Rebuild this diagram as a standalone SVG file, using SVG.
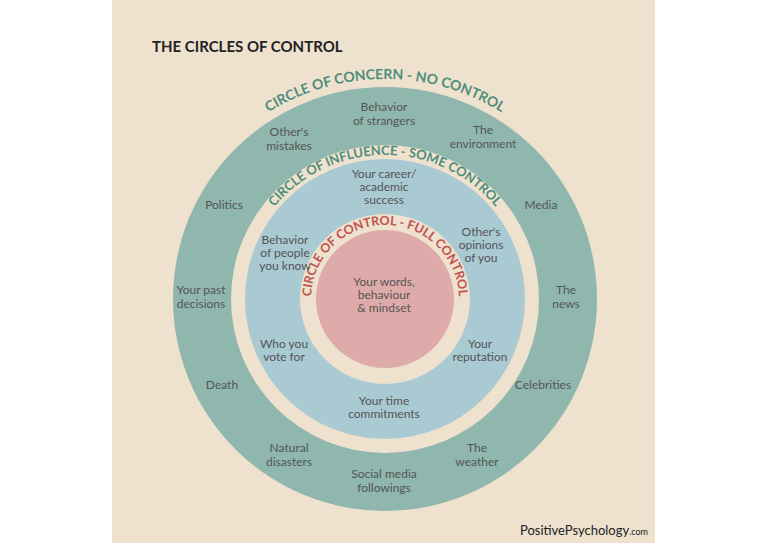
<svg xmlns="http://www.w3.org/2000/svg" width="768" height="543" viewBox="0 0 768 543">
<style>
.l{font-family:Lato,"Open Sans",sans-serif;font-size:12px;fill:#555;text-anchor:middle}
.arc{font-family:Lato,sans-serif;font-weight:bold;text-anchor:middle}
</style>
<defs>
<path id="a1" d="M165,299 A220,220 0 0 1 605,299"/>
<path id="a2" d="M241,299 A144,144 0 0 1 529,299"/>
<path id="a3" d="M311,299 A74,74 0 0 1 459,299"/>
</defs>
<rect width="768" height="543" fill="#fff"/>
<rect x="112" y="0" width="543" height="543" fill="#eee1cd"/>
<text x="152" y="52" style="font-family:Lato,sans-serif;font-weight:bold;font-size:15px;fill:#222">THE CIRCLES OF CONTROL</text>
<g id="concern"><circle cx="385" cy="299" r="212" fill="#8fb7ae"/></g>
<g id="ring2"><circle cx="385" cy="299" r="154" fill="#eee1cd"/></g>
<g id="influence"><circle cx="385" cy="299" r="140" fill="#a9c9d3"/></g>
<g id="ring3"><circle cx="385" cy="299" r="85" fill="#eee1cd"/></g>
<g id="control"><circle cx="385" cy="299" r="69" fill="#dfaaaa"/></g>
<g id="arcs">
<text class="arc" style="font-size:14px;fill:#4e8e7e"><textPath href="#a1" startOffset="50%">CIRCLE OF CONCERN - NO CONTROL</textPath></text>
<text class="arc" style="font-size:13px;fill:#4e8e7e"><textPath href="#a2" startOffset="50%">CIRCLE OF INFLUENCE - SOME CONTROL</textPath></text>
<text class="arc" style="font-size:12.5px;fill:#c05350"><textPath href="#a3" startOffset="50%">CIRCLE OF CONTROL - FULL CONTROL</textPath></text>
</g>
<g id="labels">
<text class="l" x="384" y="111">Behavior<tspan x="384" dy="14">of strangers</tspan></text>
<text class="l" x="289" y="136">Other's<tspan x="289" dy="14">mistakes</tspan></text>
<text class="l" x="483" y="134">The<tspan x="483" dy="14">environment</tspan></text>
<text class="l" x="224" y="209">Politics</text>
<text class="l" x="541" y="209">Media</text>
<text class="l" x="201" y="294">Your past<tspan x="201" dy="14">decisions</tspan></text>
<text class="l" x="566" y="294">The<tspan x="566" dy="14">news</tspan></text>
<text class="l" x="222" y="389">Death</text>
<text class="l" x="543" y="389">Celebrities</text>
<text class="l" x="289" y="452">Natural<tspan x="289" dy="14">disasters</tspan></text>
<text class="l" x="477" y="452">The<tspan x="477" dy="14">weather</tspan></text>
<text class="l" x="384" y="478">Social media<tspan x="384" dy="14">followings</tspan></text>
<text class="l" x="384" y="178">Your career/<tspan x="384" dy="13">academic</tspan><tspan x="384" dy="13">success</tspan></text>
<text class="l" x="285" y="244">Behavior<tspan x="285" dy="13">of people</tspan><tspan x="285" dy="13">you know</tspan></text>
<text class="l" x="481" y="236">Other's<tspan x="481" dy="13">opinions</tspan><tspan x="481" dy="13">of you</tspan></text>
<text class="l" x="384" y="286">Your words,<tspan x="384" dy="13">behaviour</tspan><tspan x="384" dy="13">&amp; mindset</tspan></text>
<text class="l" x="284" y="348">Who you<tspan x="284" dy="13">vote for</tspan></text>
<text class="l" x="480" y="348">Your<tspan x="480" dy="13">reputation</tspan></text>
<text class="l" x="384" y="405">Your time<tspan x="384" dy="13">commitments</tspan></text>
</g>
<text x="648" y="535" style="font-family:Lato,sans-serif;font-size:13px;fill:#222;text-anchor:end">PositivePsychology<tspan font-size="9">.com</tspan></text>
</svg>
